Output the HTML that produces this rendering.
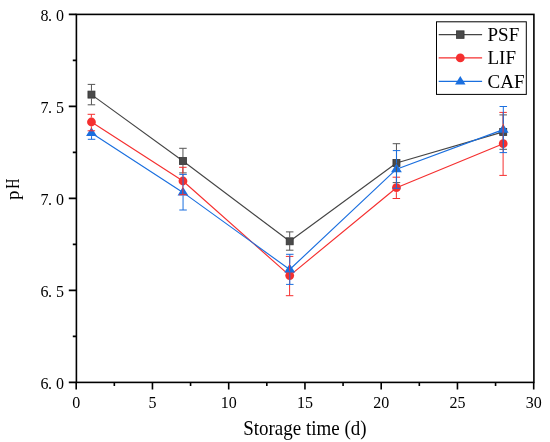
<!DOCTYPE html><html><head><meta charset="utf-8"><style>html,body{margin:0;padding:0;background:#fff;}svg{display:block;}text{font-family:"Liberation Serif","Noto Serif CJK SC",serif;fill:#000;}</style></head><body>
<svg width="550" height="442" viewBox="0 0 550 442">
<rect width="550" height="442" fill="#fff"/>
<polyline points="91.45,94.60 182.95,161.00 289.70,241.30 396.45,163.00 503.20,131.90" fill="none" stroke="#454545" stroke-width="1.15" stroke-linejoin="round"/>
<polyline points="91.45,122.00 182.95,181.00 289.70,275.60 396.45,187.70 503.20,143.70" fill="none" stroke="#f52f2f" stroke-width="1.15" stroke-linejoin="round"/>
<polyline points="91.45,133.00 182.95,192.40 289.70,269.50 396.45,169.20 503.20,129.60" fill="none" stroke="#1a6fdf" stroke-width="1.15" stroke-linejoin="round"/>
<rect x="87.95" y="91.10" width="7" height="7" fill="#4a4a4a" stroke="#333" stroke-width="0.8"/>
<rect x="179.45" y="157.50" width="7" height="7" fill="#4a4a4a" stroke="#333" stroke-width="0.8"/>
<rect x="286.20" y="237.80" width="7" height="7" fill="#4a4a4a" stroke="#333" stroke-width="0.8"/>
<rect x="392.95" y="159.50" width="7" height="7" fill="#4a4a4a" stroke="#333" stroke-width="0.8"/>
<rect x="499.70" y="128.40" width="7" height="7" fill="#4a4a4a" stroke="#333" stroke-width="0.8"/>
<circle cx="91.45" cy="122.00" r="4.4" fill="#f52f2f"/>
<circle cx="182.95" cy="181.00" r="4.4" fill="#f52f2f"/>
<circle cx="289.70" cy="275.60" r="4.4" fill="#f52f2f"/>
<circle cx="396.45" cy="187.70" r="4.4" fill="#f52f2f"/>
<circle cx="503.20" cy="143.70" r="4.4" fill="#f52f2f"/>
<polygon points="91.45,127.30 96.85,136.10 86.05,136.10" fill="#1a6fdf"/>
<polygon points="182.95,186.70 188.35,195.50 177.55,195.50" fill="#1a6fdf"/>
<polygon points="289.70,263.80 295.10,272.60 284.30,272.60" fill="#1a6fdf"/>
<polygon points="396.45,163.50 401.85,172.30 391.05,172.30" fill="#1a6fdf"/>
<polygon points="503.20,123.90 508.60,132.70 497.80,132.70" fill="#1a6fdf"/>
<path d="M91.45 84.40V90.85M87.70 84.40H95.20M91.45 98.35V104.80M87.70 104.80H95.20" stroke="#555" stroke-width="1" fill="none"/>
<path d="M182.95 148.30V157.25M179.20 148.30H186.70M182.95 164.75V172.90M179.20 172.90H186.70" stroke="#555" stroke-width="1" fill="none"/>
<path d="M289.70 231.90V237.55M285.95 231.90H293.45M289.70 245.05V250.20M285.95 250.20H293.45" stroke="#555" stroke-width="1" fill="none"/>
<path d="M396.45 143.70V159.25M392.70 143.70H400.20M396.45 166.75V182.60M392.70 182.60H400.20" stroke="#555" stroke-width="1" fill="none"/>
<path d="M503.20 114.90V128.15M499.45 114.90H506.95M503.20 135.65V149.30M499.45 149.30H506.95" stroke="#555" stroke-width="1" fill="none"/>
<path d="M91.35 114.30V117.60M87.60 114.30H95.10M91.35 126.40V130.80M87.60 130.80H95.10" stroke="#f52f2f" stroke-width="1" fill="none"/>
<path d="M182.85 167.30V176.60M179.10 167.30H186.60M182.85 185.40V194.70M179.10 194.70H186.60" stroke="#f52f2f" stroke-width="1" fill="none"/>
<path d="M289.60 256.40V271.20M285.85 256.40H293.35M289.60 280.00V295.70M285.85 295.70H293.35" stroke="#f52f2f" stroke-width="1" fill="none"/>
<path d="M396.35 177.20V183.30M392.60 177.20H400.10M396.35 192.10V198.50M392.60 198.50H400.10" stroke="#f52f2f" stroke-width="1" fill="none"/>
<path d="M503.10 112.40V139.30M499.35 112.40H506.85M503.10 148.10V175.40M499.35 175.40H506.85" stroke="#f52f2f" stroke-width="1" fill="none"/>
<path d="M91.55 136.10V139.30M87.80 139.30H95.30" stroke="#1a6fdf" stroke-width="1" fill="none"/>
<path d="M183.05 174.40V186.70M179.30 174.40H186.80M183.05 195.50V210.00M179.30 210.00H186.80" stroke="#1a6fdf" stroke-width="1" fill="none"/>
<path d="M289.80 254.30V263.80M286.05 254.30H293.55M289.80 272.60V284.40M286.05 284.40H293.55" stroke="#1a6fdf" stroke-width="1" fill="none"/>
<path d="M396.55 150.60V163.50M392.80 150.60H400.30M396.55 172.30V188.30M392.80 188.30H400.30" stroke="#1a6fdf" stroke-width="1" fill="none"/>
<path d="M503.30 106.50V123.90M499.55 106.50H507.05M503.30 132.70V152.60M499.55 152.60H507.05" stroke="#1a6fdf" stroke-width="1" fill="none"/>
<rect x="76.40" y="14.40" width="457.50" height="368.00" fill="none" stroke="#000" stroke-width="1.6"/>
<path d="M76.20 382.40V389.40M114.33 382.40V385.90M152.45 382.40V389.40M190.57 382.40V385.90M228.70 382.40V389.40M266.82 382.40V385.90M304.95 382.40V389.40M343.07 382.40V385.90M381.20 382.40V389.40M419.32 382.40V385.90M457.45 382.40V389.40M495.57 382.40V385.90M533.70 382.40V389.40M76.40 382.40H68.80M76.40 336.40H72.80M76.40 290.40H68.80M76.40 244.40H72.80M76.40 198.40H68.80M76.40 152.40H72.80M76.40 106.40H68.80M76.40 60.40H72.80M76.40 14.40H68.80" stroke="#000" stroke-width="1.6" fill="none"/>
<text x="76.20" y="407.7" font-size="16" text-anchor="middle">0</text>
<text x="152.45" y="407.7" font-size="16" text-anchor="middle">5</text>
<text x="228.70" y="407.7" font-size="16" text-anchor="middle">10</text>
<text x="304.95" y="407.7" font-size="16" text-anchor="middle">15</text>
<text x="381.20" y="407.7" font-size="16" text-anchor="middle">20</text>
<text x="457.45" y="407.7" font-size="16" text-anchor="middle">25</text>
<text x="533.70" y="407.7" font-size="16" text-anchor="middle">30</text>
<text y="388.70" font-size="16"><tspan x="40.4">6</tspan><tspan x="48.0">.</tspan><tspan x="56.0">0</tspan></text>
<text y="296.70" font-size="16"><tspan x="40.4">6</tspan><tspan x="48.0">.</tspan><tspan x="56.0">5</tspan></text>
<text y="204.70" font-size="16"><tspan x="40.4">7</tspan><tspan x="48.0">.</tspan><tspan x="56.0">0</tspan></text>
<text y="112.70" font-size="16"><tspan x="40.4">7</tspan><tspan x="48.0">.</tspan><tspan x="56.0">5</tspan></text>
<text y="20.70" font-size="16"><tspan x="40.4">8</tspan><tspan x="48.0">.</tspan><tspan x="56.0">0</tspan></text>
<text transform="translate(304.9 434.8) scale(1 1.06)" font-size="19" text-anchor="middle">Storage time (d)</text>
<text transform="translate(18.7 199.9) rotate(-90)" font-size="19">p<tspan dx="1.6" textLength="10.1" lengthAdjust="spacingAndGlyphs">H</tspan></text>
<rect x="436.5" y="21.8" width="89.8" height="72.6" fill="#fff" stroke="#000" stroke-width="1"/>
<line x1="438.7" y1="34.6" x2="482.1" y2="34.6" stroke="#454545" stroke-width="1.1"/>
<text x="487.5" y="40.8" font-size="19">PSF</text>
<line x1="438.7" y1="57.9" x2="482.1" y2="57.9" stroke="#f52f2f" stroke-width="1.1"/>
<text x="487.5" y="64.2" font-size="19">LIF</text>
<line x1="438.7" y1="81.4" x2="482.1" y2="81.4" stroke="#1a6fdf" stroke-width="1.1"/>
<text x="487.5" y="87.6" font-size="19">CAF</text>
<rect x="456.55" y="30.85" width="7.5" height="7.5" fill="#4a4a4a" stroke="#333" stroke-width="0.8"/>
<circle cx="460.30" cy="57.9" r="4.4" fill="#f52f2f"/>
<polygon points="460.30,75.90 465.50,84.60 455.10,84.60" fill="#1a6fdf"/>
</svg></body></html>
